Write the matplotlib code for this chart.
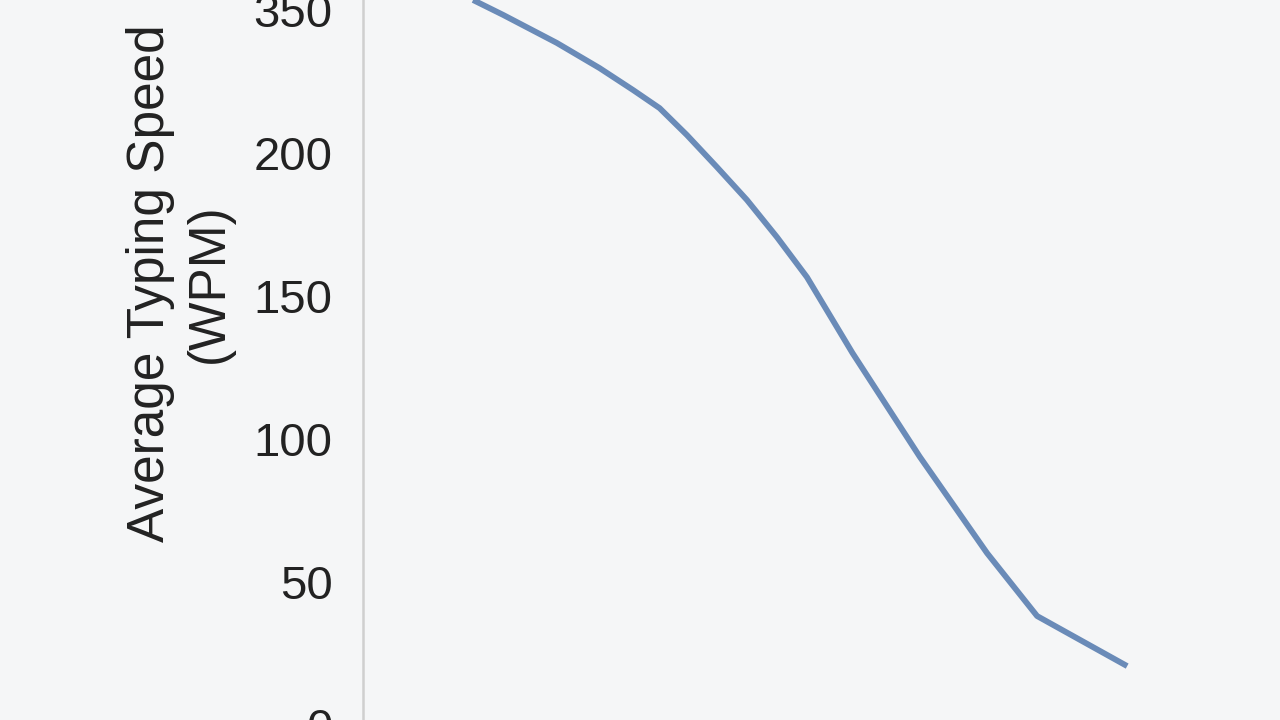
import matplotlib
matplotlib.use('Agg')
import matplotlib.pyplot as plt

# values
step = [1.21, 1.54, 2.13, 2.60, 2.97, 3.26, 3.56, 3.89, 4.22, 4.55, 4.88,
        5.38, 6.12, 6.86, 7.41, 8.40]
wpm = [253.5, 248.3, 238.5, 229.7, 222.0, 215.7, 206.3, 195.1, 183.6, 170.6, 156.6,
       130.1, 93.8, 60.1, 38.1, 20.6]
tick_pos = [0, 50, 100, 150, 200, 250]
tick_labels = ['0', '50', '100', '150', '200', '350']

plt.rcParams['font.family'] = ['Liberation Sans', 'DejaVu Sans']

bg = '#f5f6f7'
fig = plt.figure(figsize=(12.8, 7.2), dpi=100, facecolor=bg)
ax = fig.add_axes([363 / 1280, 0, 1 - 363 / 1280, 1])
ax.set_facecolor(bg)

ax.plot(step, wpm, color='#6a8bb8', lw=4.2, solid_capstyle='butt', solid_joinstyle='round')

ax.set_xticks([])
ax.set_yticks(tick_pos[1:])
ax.set_yticklabels(tick_labels[1:])
ax.set_xlim(0, 10.08)
ax.set_ylim(1.75, 253.5)
ax.tick_params(axis='y', length=0, pad=22, labelsize=34, labelcolor='#222222')

# the 0 label sits just under the bottom edge, so matplotlib would drop it
ax.text(-0.0338, tick_pos[0], tick_labels[0], transform=ax.get_yaxis_transform(),
        ha='right', va='center_baseline', fontsize=34, color='#222222', clip_on=False)

for s in ['top', 'right', 'bottom']:
    ax.spines[s].set_visible(False)
ax.spines['left'].set_color('#cfcfcf')
ax.spines['left'].set_linewidth(1.8)

ax.set_ylabel('Average Typing Speed\n(WPM)', fontsize=37, color='#222222', linespacing=1.25)
ax.yaxis.set_label_coords(-0.141, 0.607)

plt.savefig('out.png', dpi=100, facecolor=bg)
